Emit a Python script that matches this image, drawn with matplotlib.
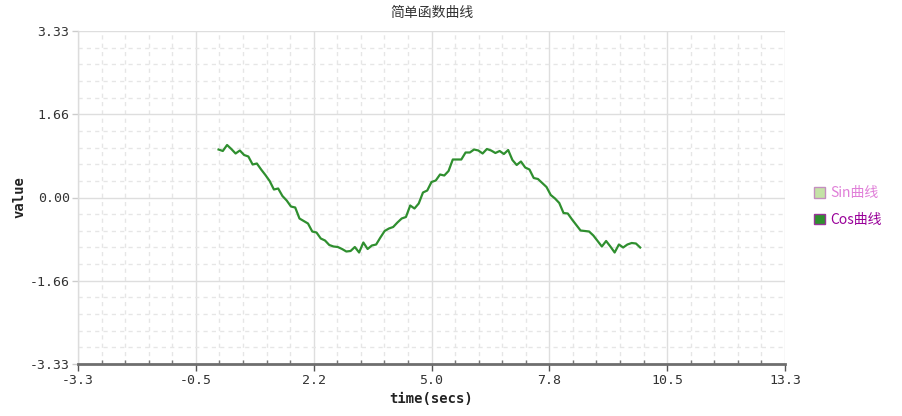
import numpy as np
import matplotlib.pyplot as plt
from matplotlib.patches import Patch

# data (Cos series, x step 0.1)
time_secs = [round(0.1 * i, 1) for i in range(100)]
cos_values = [
    0.96, 0.93, 1.05, 0.97, 0.88, 0.94, 0.85, 0.82, 0.66, 0.68,
    0.56, 0.45, 0.33, 0.16, 0.18, 0.03, -0.06, -0.18, -0.20, -0.42,
    -0.47, -0.52, -0.68, -0.70, -0.82, -0.86, -0.95, -0.98, -0.99, -1.03,
    -1.08, -1.07, -0.99, -1.10, -0.90, -1.03, -0.96, -0.94, -0.80, -0.67,
    -0.62, -0.59, -0.50, -0.42, -0.39, -0.16, -0.22, -0.12, 0.10, 0.14,
    0.31, 0.34, 0.46, 0.44, 0.53, 0.76, 0.76, 0.76, 0.90, 0.90,
    0.96, 0.94, 0.88, 0.97, 0.94, 0.89, 0.93, 0.87, 0.95, 0.75,
    0.65, 0.72, 0.60, 0.56, 0.39, 0.37, 0.29, 0.21, 0.05, -0.02,
    -0.11, -0.31, -0.32, -0.44, -0.55, -0.66, -0.67, -0.68, -0.76, -0.87,
    -0.98, -0.87, -0.98, -1.10, -0.94, -1.00, -0.94, -0.91, -0.92, -1.00,
]
x_tick_labels = ['-3.3', '-0.5', '2.2', '5.0', '7.8', '10.5', '13.3']
y_tick_labels = ['-3.33', '-1.66', '0.00', '1.66', '3.33']
series_names = ['Sin曲线', 'Cos曲线']

title = '简单函数曲线'
x_label = 'time(secs)'
y_label = 'value'

cjk = ['Noto Sans CJK SC', 'DejaVu Sans']
mono = ['DejaVu Sans Mono']

fig = plt.figure(figsize=(9.02, 4.16), dpi=100)
ax = fig.add_axes([78 / 902, 1 - 364 / 416, (785 - 78) / 902, (364 - 31) / 416])

ax.plot(time_secs, cos_values, color='#2f8f2f', linewidth=1.6, zorder=3)

xmin, xmax = -3.3, 13.3
ymin, ymax = -3.33, 3.33
ax.set_xlim(xmin, xmax)
ax.set_ylim(ymin, ymax)

ax.set_xticks(np.linspace(xmin, xmax, 7))
ax.set_xticks(np.linspace(xmin, xmax, 31), minor=True)
ax.set_yticks(np.linspace(ymin, ymax, 5))
ax.set_yticks(np.linspace(ymin, ymax, 21), minor=True)
ax.set_xticklabels(x_tick_labels, family=mono, fontsize=9.5, color='#333333')
ax.set_yticklabels(y_tick_labels, family=mono, fontsize=9.5, color='#333333')

ax.grid(which='major', color='#dedede', linewidth=1.0, linestyle='-', zorder=0)
ax.grid(which='minor', color='#e6e6e6', linewidth=1.0, linestyle=(0, (3, 3)), zorder=0)
ax.set_axisbelow(True)

for side in ['top', 'right']:
    ax.spines[side].set_visible(False)
ax.spines['left'].set_color('#dcdcdc')
ax.spines['left'].set_linewidth(1.0)
ax.spines['bottom'].set_color('#6e6e6e')
ax.spines['bottom'].set_linewidth(2.0)

ax.tick_params(axis='x', which='major', direction='out', length=5, width=1, color='#555555', pad=2)
ax.tick_params(axis='x', which='minor', direction='in', length=3, width=1, color='#777777')
ax.tick_params(axis='y', which='major', direction='out', length=4, width=1, color='#cccccc', pad=2)
ax.tick_params(axis='y', which='minor', length=0)

ax.set_title(title, family=cjk, fontsize=10, color='#333333', pad=10)
ax.set_xlabel(x_label, family=mono, fontsize=10, fontweight='bold', color='#222222', labelpad=4)
ax.set_ylabel(y_label, family=mono, fontsize=10, fontweight='bold', color='#222222')
ax.yaxis.set_label_coords(-0.0735, 0.5)

handles = [
    Patch(facecolor='#c4e3a6', edgecolor='#c48fc0', linewidth=1.0),
    Patch(facecolor='#2f8f2f', edgecolor='#993399', linewidth=1.0),
]
leg = ax.legend(handles, series_names, loc='center left', bbox_to_anchor=(1.023, 0.473),
                frameon=False, handlelength=0.8, handleheight=0.8, handletextpad=0.4,
                labelspacing=0.9, prop={'family': cjk, 'size': 10})
leg.get_texts()[0].set_color('#e07fd8')
leg.get_texts()[1].set_color('#990099')

fig.savefig('out.png', dpi=100)
